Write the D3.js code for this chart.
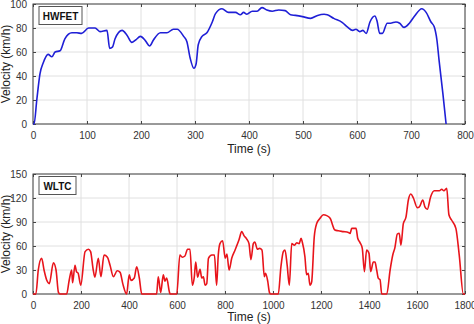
<!DOCTYPE html>
<html>
<head>
<meta charset="utf-8">
<script src="https://cdn.jsdelivr.net/npm/d3@7/dist/d3.min.js"></script>
<style>
  html, body { margin: 0; padding: 0; background: #fff; }
  svg { display: block; font-family: Arial, "Liberation Sans", sans-serif; }
</style>
</head>
<body>
<svg id="chart" width="474" height="324"></svg>
<script>
// HWFET highway cycle: time (s) and velocity (km/h)
const hwfetTime = [0, 2, 7, 13, 19, 28, 35, 41, 50, 59, 72, 81, 90, 103, 115, 124, 137, 142, 147, 152, 165, 174, 183, 190, 199, 208, 216, 223, 236, 248, 260, 267, 279, 285, 291, 298, 302, 306, 313, 322, 332, 338, 350, 362, 375, 384, 390, 396, 406, 415, 424, 433, 443, 455, 467, 477, 486, 499, 514, 527, 539, 545, 557, 573, 582, 592, 598, 605, 611, 617, 624, 633, 637, 642, 647, 656, 662, 672, 679, 687, 697, 706, 720, 728, 737, 743, 748, 752, 759, 765];
const hwfetSpeed = [0, 0, 20, 42, 51, 58, 56, 60, 61, 71, 76, 76, 75.5, 80, 80, 77, 78, 63, 64, 71, 78, 74, 68, 70, 73, 69.5, 65, 70, 76, 76, 79, 79, 73, 68.6, 55, 46.4, 50, 66, 73, 76, 85, 92, 96, 93, 93, 91, 93, 91.5, 94, 94, 97, 95, 94, 95, 94.5, 91, 90.5, 89.5, 88, 90.5, 91.4, 91, 88, 84.5, 81, 78, 79, 77, 78, 75.5, 85, 90, 86, 75.5, 75.5, 84, 84, 85, 84, 80.5, 84, 89.5, 96, 93, 85, 81, 70, 53, 25.5, 0];

// WLTC class 3 cycle: time (s) and velocity (km/h)
const wltcTime = [0, 12, 22, 36, 46, 57, 68, 85, 96, 106, 112, 140, 151, 161, 165, 175, 181, 188, 199, 217, 231, 240, 251, 258, 272, 283, 296, 310, 321, 335, 351, 363, 374, 390, 401, 408, 422, 432, 443, 453, 515, 522, 532, 543, 550, 557, 568, 571, 599, 612, 622, 633, 644, 654, 664, 672, 678, 686, 696, 703, 710, 717, 724, 731, 745, 756, 765, 772, 779, 790, 801, 808, 817, 828, 842, 858, 870, 879, 890, 900, 908, 918, 924, 935, 944, 954, 964, 969, 978, 985, 990, 1022, 1033, 1043, 1050, 1059, 1068, 1078, 1089, 1099, 1109, 1117, 1122, 1133, 1140, 1147, 1154, 1161, 1172, 1182, 1196, 1210, 1224, 1238, 1258, 1272, 1293, 1314, 1321, 1328, 1346, 1353, 1363, 1372, 1381, 1390, 1400, 1407, 1418, 1425, 1432, 1439, 1446, 1453, 1474, 1488, 1499, 1508, 1518, 1526, 1533, 1543, 1554, 1564, 1574, 1585, 1601, 1610, 1624, 1633, 1643, 1657, 1672, 1693, 1703, 1712, 1724, 1733, 1744, 1762, 1776, 1793, 1800];
const wltcSpeed = [0, 0, 30, 44.6, 30, 17.5, 13, 39, 30, 2, 0, 0, 17.5, 30, 14, 36, 28, 26, 11, 53, 56, 53, 30, 21, 44.6, 21.6, 48.7, 46, 36, 21.6, 29, 27, 13, 0, 24, 17, 20, 34, 20, 0, 0, 21.6, 2, 24, 16, 20, 3, 0, 0, 48.7, 46, 47.5, 56, 56, 11, 21, 40, 21, 31, 20, 21.5, 11, 13, 44.6, 48.7, 48.7, 11, 48.7, 63, 66.6, 44.6, 50, 30, 44.6, 55, 67.5, 78, 73, 69, 63, 43, 63, 65, 56, 57, 55, 21.6, 26, 16, 2, 0, 0, 34, 53, 55, 36, 11, 63, 61, 64, 63, 69.6, 65, 46.6, 24, 26, 11, 15, 71.7, 88, 94.6, 99, 98, 94.6, 80, 79, 78, 77, 75.6, 82, 82, 69.6, 64, 57, 28, 55, 50.8, 28, 40, 40, 30, 19.6, 18, 0, 0, 30, 48.7, 58, 75, 76, 61, 88, 96, 117.5, 125, 120, 108, 109, 117.5, 109, 106, 121.6, 129, 129, 131, 129, 132, 99, 92.5, 82, 48.7, 0, 0];

const hwfetXTicks = [0, 100, 200, 300, 400, 500, 600, 700, 800];
const hwfetYTicks = [0, 20, 40, 60, 80, 100];
const wltcXTicks = [0, 200, 400, 600, 800, 1000, 1200, 1400, 1600, 1800];
const wltcYTicks = [0, 30, 60, 90, 120, 150];

const svg = d3.select("#chart");

function drawPanel(opts) {
  const { top, bottom, left, right, xMax, yMax, xTicks, yTicks, time, speed, color, label, boxW, titleGap } = opts;
  const x = d3.scaleLinear().domain([0, xMax]).range([left, right]);
  const y = d3.scaleLinear().domain([0, yMax]).range([bottom, top]);
  const g = svg.append("g");

  // grid
  g.append("g").selectAll("line").data(xTicks).join("line")
    .attr("x1", d => x(d)).attr("x2", d => x(d))
    .attr("y1", top).attr("y2", bottom)
    .attr("stroke", "#e0e0e0").attr("stroke-width", 1);
  g.append("g").selectAll("line").data(yTicks).join("line")
    .attr("x1", left).attr("x2", right)
    .attr("y1", d => y(d)).attr("y2", d => y(d))
    .attr("stroke", "#e0e0e0").attr("stroke-width", 1);

  // axes (inward ticks on all four sides)
  const axisStyle = sel => {
    sel.select(".domain").remove();
    sel.selectAll(".tick line").attr("stroke", "#444");
    sel.selectAll(".tick text").attr("fill", "#333").attr("font-size", 10);
  };
  g.append("g").attr("transform", `translate(0,${bottom})`)
    .call(d3.axisBottom(x).tickValues(xTicks).tickSizeInner(-3).tickPadding(8).tickFormat(d3.format("d")))
    .call(axisStyle);
  g.append("g").attr("transform", `translate(0,${top})`)
    .call(d3.axisTop(x).tickValues(xTicks).tickSizeInner(-3).tickFormat(""))
    .call(axisStyle);
  g.append("g").attr("transform", `translate(${left},0)`)
    .call(d3.axisLeft(y).tickValues(yTicks).tickSizeInner(-3).tickPadding(6).tickFormat(d3.format("d")))
    .call(axisStyle);
  g.append("g").attr("transform", `translate(${right},0)`)
    .call(d3.axisRight(y).tickValues(yTicks).tickSizeInner(-3).tickFormat(""))
    .call(axisStyle);

  // frame
  g.append("rect").attr("x", left).attr("y", top)
    .attr("width", right - left).attr("height", bottom - top)
    .attr("fill", "none").attr("stroke", "#444").attr("stroke-width", 1);

  // speed trace
  const line = d3.line().x((d, i) => x(time[i])).y(d => y(d)).curve(d3.curveMonotoneX);
  g.append("path").datum(speed)
    .attr("d", line)
    .attr("fill", "none").attr("stroke", color).attr("stroke-width", 1.6)
    .attr("stroke-linejoin", "round");

  // cycle name box
  g.append("rect").attr("x", left + 6).attr("y", top + 2.5)
    .attr("width", boxW).attr("height", 18)
    .attr("fill", "#fff").attr("stroke", "#555").attr("stroke-width", 1);
  g.append("text").attr("x", left + 6 + boxW / 2).attr("y", top + 15.5)
    .attr("text-anchor", "middle").attr("font-size", 10).attr("font-weight", "bold")
    .attr("fill", "#111").text(label);

  // axis titles
  svg.append("text")
    .attr("transform", `translate(10,${(top + bottom) / 2}) rotate(-90)`)
    .attr("text-anchor", "middle").attr("font-size", 12).attr("fill", "#222")
    .text("Velocity (km/h)");
  svg.append("text")
    .attr("x", (left + right) / 2).attr("y", bottom + titleGap)
    .attr("text-anchor", "middle").attr("font-size", 12).attr("fill", "#222")
    .text("Time (s)");
}

drawPanel({
  top: 4, bottom: 124, left: 33, right: 465,
  xMax: 800, yMax: 100, xTicks: hwfetXTicks, yTicks: hwfetYTicks,
  time: hwfetTime, speed: hwfetSpeed, color: "#1f1fd6", label: "HWFET", boxW: 43, titleGap: 29
});
drawPanel({
  top: 174, bottom: 294, left: 33, right: 465,
  xMax: 1800, yMax: 150, xTicks: wltcXTicks, yTicks: wltcYTicks,
  time: wltcTime, speed: wltcSpeed, color: "#e8141b", label: "WLTC", boxW: 37, titleGap: 26.5
});
</script>
</body>
</html>
